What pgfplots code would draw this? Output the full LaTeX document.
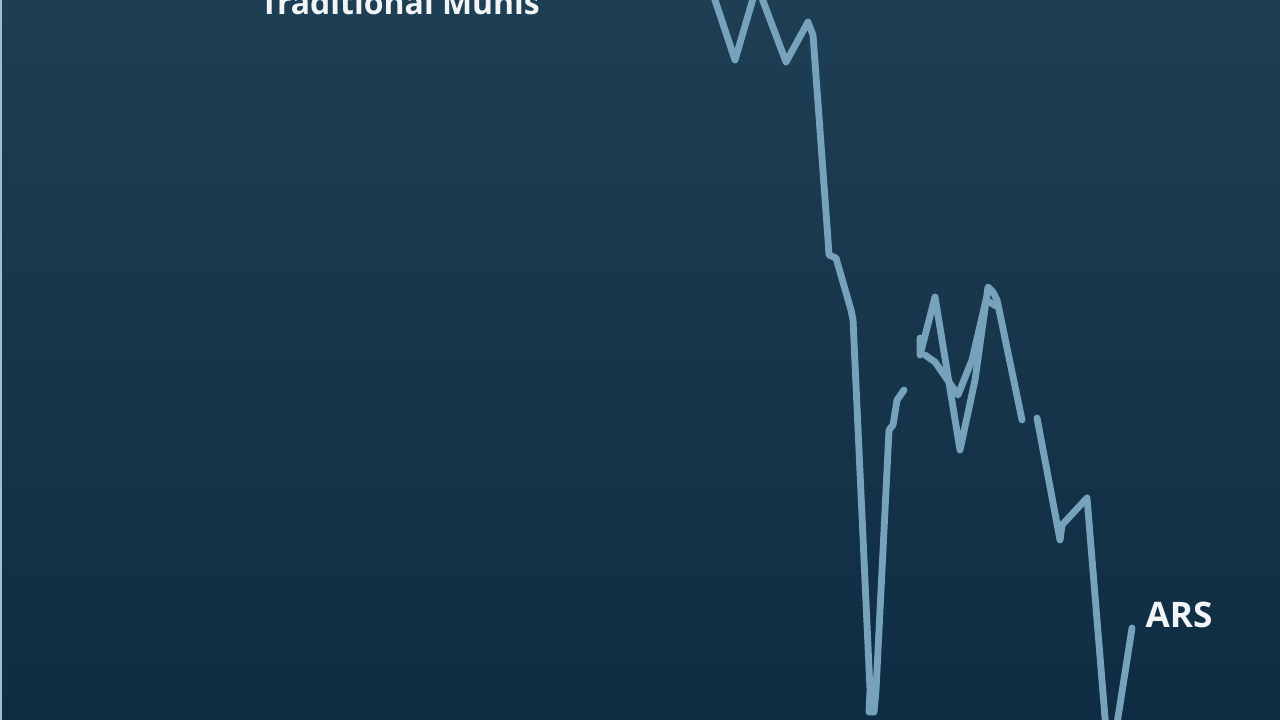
\documentclass[border=0pt]{standalone}
\usepackage{pgfplots}
\pgfplotsset{compat=1.18}
\usepackage{fontspec}
\setmainfont{Open Sans}
\definecolor{bgtop}{HTML}{1E3E53}
\definecolor{bgbot}{HTML}{0F2D42}
\definecolor{linec}{HTML}{76A2BB}
\definecolor{txt}{HTML}{F2F5F7}
\begin{document}
\begin{tikzpicture}
\useasboundingbox (0,0) rectangle (12.8,7.2);
\clip (0,0) rectangle (12.8,7.2);
\shade[top color=bgtop, bottom color=bgbot] (0,0) rectangle (12.8,7.2);
\fill[linec!70] (0,0) rectangle (0.02,7.2);
\begin{axis}[
  at={(0,0)}, anchor=south west,
  width=12.8cm, height=7.2cm, scale only axis,
  xmin=0, xmax=1280, ymin=0, ymax=720, y dir=reverse,
  axis lines=none, clip=true,
]
\addplot[linec, line width=1.95pt, line join=round, line cap=round] coordinates {
(710,-15) (735,60) (757,-15) (786,62) (808,22) (813,35) (828,240) (829,255) (836,258) (851,310) (853,320) (870,690) (869,712) (874,712) (876,690) (888,450) (889,430) (893,425) (897,400) (904,390)
};
\addplot[linec, line width=1.95pt, line join=round, line cap=round] coordinates {
(920,338) (920,355) (935,297) (960,450) (975,380) (988,287) (993,292) (997,300) (1022,420)
};
\addplot[linec, line width=1.95pt, line join=round, line cap=round] coordinates {
(925,355) (935,362) (958,395) (972,360) (986,300) (996,306)
};
\addplot[linec, line width=1.95pt, line join=round, line cap=round] coordinates {
(1037,418) (1060,540) (1062,525) (1087,498) (1106,730)
};
\addplot[linec, line width=1.95pt, line join=round, line cap=round] coordinates {
(1116,730) (1132,628)
};
\node[anchor=base, text=txt, font=\fontsize{9.1pt}{10pt}\selectfont\bfseries, inner sep=0pt] at (axis cs:400,14) {Traditional Munis};
\node[anchor=base west, text=txt, font=\fontsize{10pt}{12pt}\selectfont\bfseries, inner sep=0pt] at (axis cs:1145,627) {ARS};
\end{axis}
\end{tikzpicture}
\end{document}
